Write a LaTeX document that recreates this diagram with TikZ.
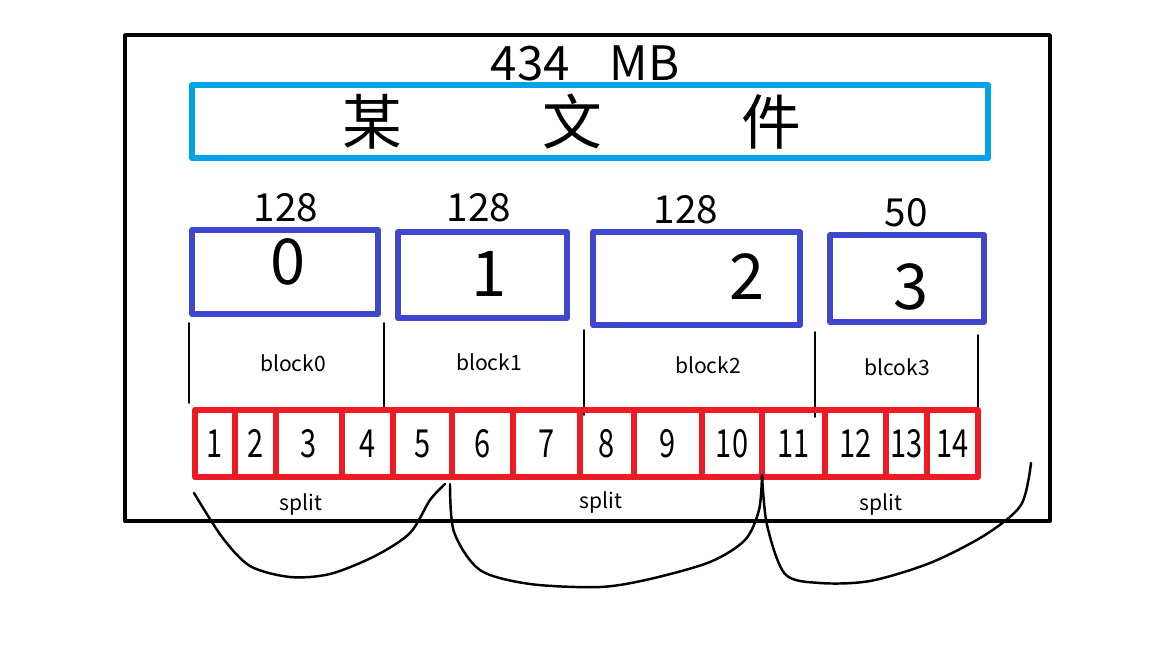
\documentclass[tikz,border=0pt]{standalone}
\usepackage{fontspec}
\setmainfont{Noto Sans CJK SC}
\usepackage{graphicx}
\usetikzlibrary{positioning}
\definecolor{filecyan}{HTML}{00A2E8}
\definecolor{blkblue}{HTML}{3F48CC}
\definecolor{splitred}{HTML}{ED1C24}

\begin{document}
\begin{tikzpicture}[x=0.02cm,y=-0.02cm,line join=round,line cap=round,
  hand/.style={font=\fontsize{22}{22}\selectfont,inner sep=0pt},
  big/.style={font=\fontsize{36}{36}\selectfont,inner sep=0pt},
  lbl/.style={font=\fontsize{12}{12}\selectfont,inner sep=0pt},
  blkbox/.style={draw=blkblue,line width=3.4pt},
  cellbox/.style={draw=splitred,line width=3.4pt},
  divline/.style={line width=1.1pt},
  brace/.style={line width=1.4pt}]
  \useasboundingbox (0,0) rectangle (1152,648);
  \node[draw,line width=2.3pt,minimum width=18.5cm,minimum height=9.72cm] (frame) at (587.5,278) {};
  \node[font=\fontsize{27}{27}\selectfont,inner sep=0pt] (size) at (585,63) {434\hspace{0.8cm}MB};
  \node[draw=filecyan,line width=3.4pt,minimum width=15.92cm,minimum height=1.46cm] (file) at (590,121.5) {};
  \node[font=\fontsize{34}{34}\selectfont,inner sep=0pt] (ftext) at (572,122) {某\hspace{2.8cm}文\hspace{2.8cm}件};
  % blocks
  \node[blkbox,minimum width=3.72cm,minimum height=1.68cm] (b0) at (285,272) {};
  \node[blkbox,minimum width=3.38cm,minimum height=1.72cm] (b1) at (482.5,275) {};
  \node[blkbox,minimum width=4.14cm,minimum height=1.86cm] (b2) at (696.5,278.5) {};
  \node[blkbox,minimum width=3.08cm,minimum height=1.74cm] (b3) at (907,278.5) {};
  \node[big] (n0) at (288,262) {0};
  \node[big] (n1) at (489,274) {1};
  \node[big] (n2) at (747,277) {2};
  \node[big] (n3) at (911,287) {3};
  \node[hand] (s0) at (286,208) {128};
  \node[hand] (s1) at (479,208) {128};
  \node[hand] (s2) at (686,210) {128};
  \node[hand] (s3) at (906,213) {50};
  \node[lbl] (l0) at (293,363) {block0};
  \node[lbl] (l1) at (489,362) {block1};
  \node[lbl] (l2) at (708,365) {block2};
  \node[lbl] (l3) at (897,367) {blcok3};
  \foreach \x/\ya/\yb [count=\i] in {189/323/403,384/323/412,584/330/415,815/332/417,978/335/413}{
    \coordinate (dt\i) at (\x,\ya);
    \coordinate (db\i) at (\x,\yb);
    \draw[divline] (dt\i) -- (db\i);
  }
  % splits
  \foreach \a/\b [count=\i] in {195/235,235/276,276/342,342/393,393/452,452/513,513/580,
      580/634,634/702,702/762,762/825,825/886,886/927,927/978}
    \draw[cellbox] (\a,410) rectangle node[hand] (c\i) {\scalebox{0.75}[1]{\i}} (\b,477);
  \node[lbl] (p0) at (301,505) {split};
  \node[lbl] (p1) at (601,503) {split};
  \node[lbl] (p2) at (881,505) {split};
  \draw[brace] plot[smooth] coordinates {(194,493) (222,537) (250,566) (290,577) (330,574)
    (375,556) (410,533) (430,500) (445,484)};
  \draw[brace] plot[smooth] coordinates {(450,484) (454,532) (480,570) (530,584) (600,587)
    (650,579) (710,562) (745,540) (759,510) (762,475)};
  \draw[brace] plot[smooth] coordinates {(762,475) (767,525) (785,574) (820,583) (870,581)
    (930,563) (985,535) (1021,505) (1031,463)};
\end{tikzpicture}
\end{document}
